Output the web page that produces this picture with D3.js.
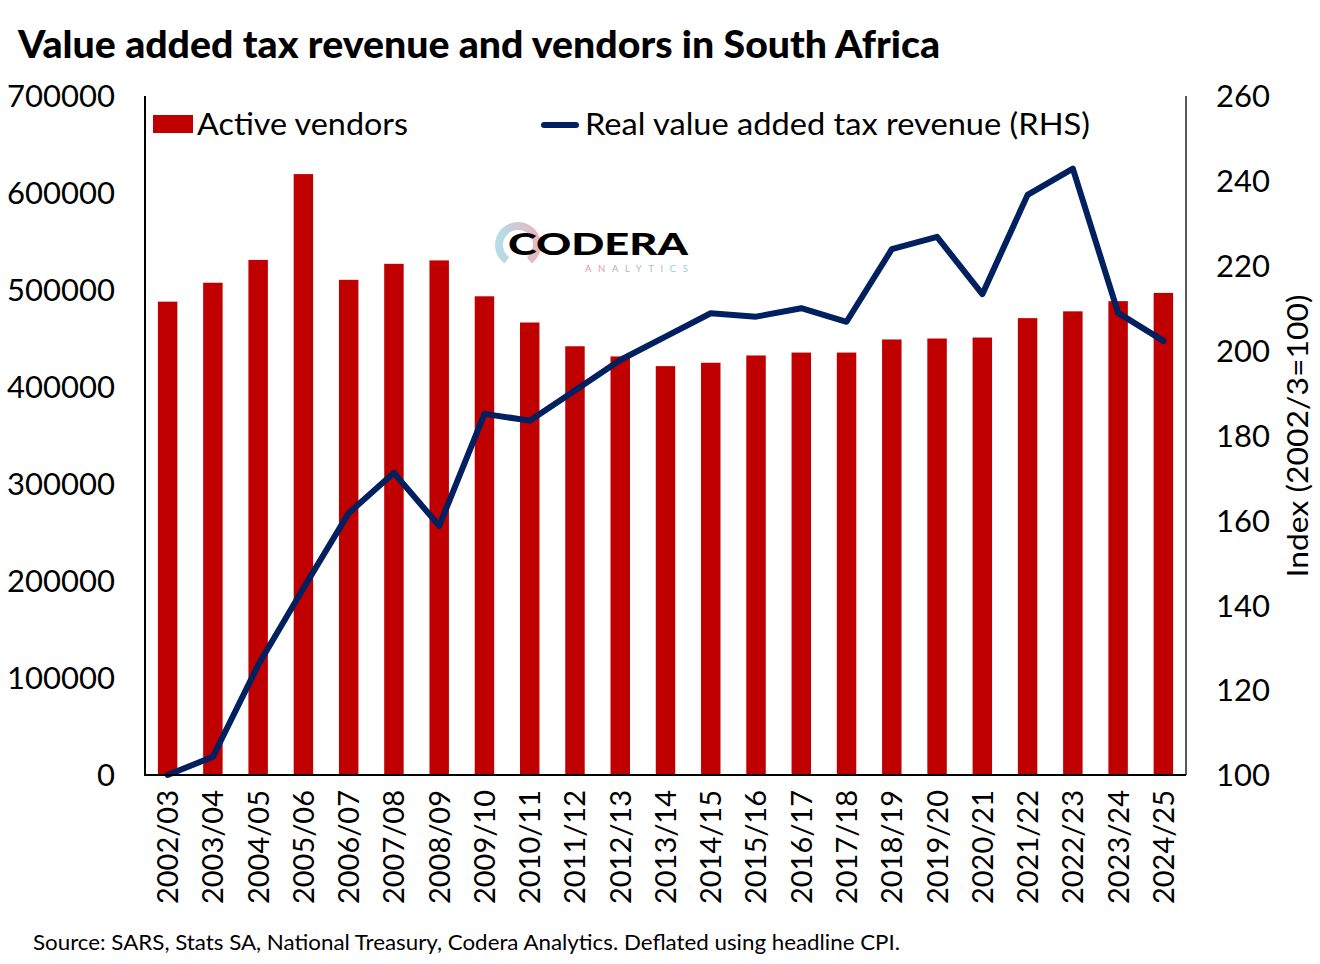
<!DOCTYPE html>
<html>
<head>
<meta charset="utf-8">
<script src="https://cdn.jsdelivr.net/npm/d3@7/dist/d3.min.js"></script>
<style>
  html, body { margin: 0; padding: 0; background: #fff; }
  svg { display: block; }
  text { font-family: Lato, "Noto Sans", sans-serif; fill: #000; }
</style>
</head>
<body>
<svg id="chart" width="1320" height="964"></svg>
<script>
const categories = ["2002/03","2003/04","2004/05","2005/06","2006/07","2007/08","2008/09","2009/10","2010/11","2011/12","2012/13","2013/14","2014/15","2015/16","2016/17","2017/18","2018/19","2019/20","2020/21","2021/22","2022/23","2023/24","2024/25"];
const activeVendors = [488000,507500,531000,619500,510500,527000,530500,493500,466500,442000,431500,421500,425000,432500,435500,435500,449000,450000,451000,471000,478000,488500,497000];
const realVatIndex = [100,104.3,125.9,144.0,161.7,171.2,158.7,185.1,183.5,190.6,197.8,203.3,208.8,208.0,210.0,206.8,223.9,226.8,213.3,236.7,242.9,208.9,202.3];
const leftTicks = [0,100000,200000,300000,400000,500000,600000,700000];
const rightTicks = [100,120,140,160,180,200,220,240,260];

const svg = d3.select("#chart");
const m = {left: 145, right: 1186, top: 96, bottom: 775};

const x = d3.scaleBand().domain(categories).range([m.left, m.right]).paddingInner(0.57).paddingOuter(0.285);
const yL = d3.scaleLinear().domain([0, 700000]).range([m.bottom, m.top]);
const yR = d3.scaleLinear().domain([100, 260]).range([m.bottom, m.top]);

// Title
svg.append("text").attr("x", 18).attr("y", 58)
  .attr("font-size", 38).attr("font-weight", 900)
  .attr("textLength", 922).attr("lengthAdjust", "spacingAndGlyphs")
  .text("Value added tax revenue and vendors in South Africa");

// Bars
svg.append("g").selectAll("rect").data(categories).join("rect")
  .attr("x", d => x(d)).attr("width", x.bandwidth())
  .attr("y", (d, i) => yL(activeVendors[i]))
  .attr("height", (d, i) => yL(0) - yL(activeVendors[i]))
  .attr("fill", "#C00000");

// Logo (watermark)
const logo = svg.append("g");
const defs = svg.append("defs");
const lg = defs.append("linearGradient").attr("id", "lg").attr("x1", "0").attr("y1", "0").attr("x2", "1").attr("y2", "0");
lg.append("stop").attr("offset", "0").attr("stop-color", "#e8919d");
lg.append("stop").attr("offset", "1").attr("stop-color", "#8fd3e0");
const arc = d3.arc().innerRadius(15).outerRadius(23).startAngle(Math.PI * 0.2).endAngle(Math.PI * 1.8);
logo.append("path").attr("d", arc()).attr("transform", "translate(518,245) rotate(180)")
  .attr("fill", "url(#lg)").attr("opacity", 0.7);
logo.append("text").attr("x", 508).attr("y", 255).attr("font-size", 30).attr("font-weight", 900)
  .attr("textLength", 180).attr("lengthAdjust", "spacingAndGlyphs").text("CODERA");
logo.append("text").attr("x", 585).attr("y", 272).attr("font-size", 9.5)
  .attr("textLength", 103).attr("lengthAdjust", "spacing").style("fill", "url(#lg)").text("ANALYTICS");

// Line
const line = d3.line()
  .x((d, i) => x(categories[i]) + x.bandwidth() / 2)
  .y(d => yR(d));
svg.append("path").datum(realVatIndex)
  .attr("d", line).attr("fill", "none")
  .attr("stroke", "#002060").attr("stroke-width", 6)
  .attr("stroke-linejoin", "round").attr("stroke-linecap", "round");

// Axes lines
svg.append("line").attr("x1", m.left).attr("x2", m.left).attr("y1", m.top).attr("y2", m.bottom)
  .attr("stroke", "#000").attr("stroke-width", 2);
svg.append("line").attr("x1", m.right).attr("x2", m.right).attr("y1", m.top).attr("y2", m.bottom)
  .attr("stroke", "#000").attr("stroke-width", 1.3);
svg.append("line").attr("x1", m.left - 1).attr("x2", m.right).attr("y1", m.bottom).attr("y2", m.bottom)
  .attr("stroke", "#000").attr("stroke-width", 2);

// Left ticks
const leftAxis = d3.axisLeft(yL).tickValues(leftTicks).tickSize(0).tickPadding(0).tickFormat(d => String(d));
const gL = svg.append("g").attr("transform", "translate(115,0)").call(leftAxis);
gL.select(".domain").remove();
gL.selectAll("text").attr("font-size", 31).attr("font-family", "Lato").attr("fill", "#000").attr("dy", "0.35em");

// Right ticks
const rightAxis = d3.axisRight(yR).tickValues(rightTicks).tickSize(0).tickPadding(0).tickFormat(d => String(d));
const gR = svg.append("g").attr("transform", "translate(1216,0)").call(rightAxis);
gR.select(".domain").remove();
gR.selectAll("text").attr("font-size", 31).attr("font-family", "Lato").attr("fill", "#000").attr("dy", "0.35em");

// Bottom ticks (rotated)
const bottomAxis = d3.axisBottom(x).tickSize(0).tickPadding(0);
const gB = svg.append("g").attr("transform", `translate(0,${m.bottom})`).call(bottomAxis);
gB.select(".domain").remove();
gB.selectAll("text").attr("font-size", 29).attr("font-family", "Lato").attr("fill", "#000")
  .attr("text-anchor", "end").attr("transform", "translate(0,15) rotate(-90)")
  .attr("x", 0).attr("y", 0).attr("dy", "0.36em");

// Right axis title
svg.append("text").attr("transform", "translate(1308,436) rotate(-90)")
  .attr("text-anchor", "middle").attr("font-size", 29)
  .attr("textLength", 283).attr("lengthAdjust", "spacingAndGlyphs")
  .text("Index (2002/3=100)");

// Legend
svg.append("rect").attr("x", 153).attr("y", 115).attr("width", 40).attr("height", 18).attr("fill", "#C00000");
svg.append("text").attr("x", 197).attr("y", 135).attr("font-size", 31)
  .attr("textLength", 211).attr("lengthAdjust", "spacingAndGlyphs").text("Active vendors");
svg.append("line").attr("x1", 544).attr("x2", 576).attr("y1", 125).attr("y2", 125)
  .attr("stroke", "#002060").attr("stroke-width", 6).attr("stroke-linecap", "round");
svg.append("text").attr("x", 585).attr("y", 135).attr("font-size", 31)
  .attr("textLength", 505).attr("lengthAdjust", "spacingAndGlyphs").text("Real value added tax revenue (RHS)");

// Source
svg.append("text").attr("x", 33).attr("y", 950).attr("font-size", 21)
  .attr("textLength", 867).attr("lengthAdjust", "spacingAndGlyphs")
  .text("Source: SARS, Stats SA, National Treasury, Codera Analytics. Deflated using headline CPI.");
</script>
</body>
</html>
